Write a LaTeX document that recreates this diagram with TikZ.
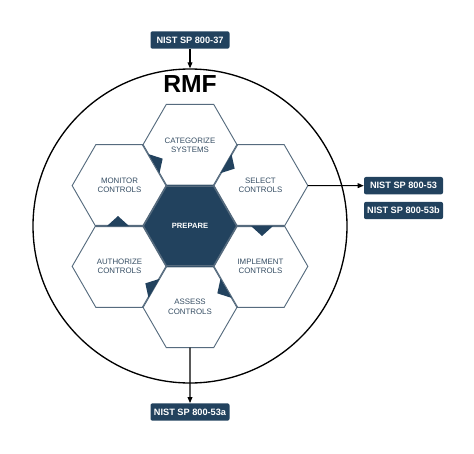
\documentclass[tikz,border=0pt]{standalone}
\usepackage{fontspec}
\setmainfont{Liberation Sans}
\usetikzlibrary{positioning,calc,arrows.meta,shapes.geometric}

\definecolor{rmfnavy}{HTML}{22425E}
\definecolor{hexline}{HTML}{566B7E}
\definecolor{hextext}{HTML}{354D63}

\begin{document}
\begin{tikzpicture}[x=0.75pt,y=-0.75pt,
         hexa/.style = {regular polygon, regular polygon sides=6,
         minimum size=71pt, inner sep=0pt, outer sep=0pt,
         draw=hexline, line width=0.7pt, align=center, text=hextext,
         font=\fontsize{5.9}{6.9}\selectfont},
         nist/.style = {rectangle, rounded corners=1.5pt, fill=rmfnavy,
         text=white, minimum width=59.25pt, minimum height=13pt,
         inner sep=0pt, font=\fontsize{6.9}{8}\selectfont\bfseries},
         flow/.style = {-{Triangle[length=4.5pt,width=3.6pt]}, line width=0.8pt},
         barb/.style = {fill=rmfnavy, draw=none}
]
         \useasboundingbox (0,0) rectangle (474,453);

         % outer circle
         \node[circle, draw, line width=1pt, minimum size=235.5pt,
         inner sep=0pt] (rmf) at (190,226) {};
         \node[font=\fontsize{18.5}{20}\selectfont\bfseries] (title) at (190,84) {RMF};

         % hexagons
         \node[hexa, fill=rmfnavy, text=white,
         font=\fontsize{5.7}{6.7}\selectfont\bfseries] (prep) at (190,226) {PREPARE};
         \node[hexa] (cat)  at (190,145.3)    {CATEGORIZE\\SYSTEMS};
         \node[hexa] (sel)  at (260.5,185.65) {SELECT\\CONTROLS};
         \node[hexa] (imp)  at (260.5,266.35) {IMPLEMENT\\CONTROLS};
         \node[hexa] (ass)  at (190,306.7)    {ASSESS\\CONTROLS};
         \node[hexa] (auth) at (119.5,266.35) {AUTHORIZE\\CONTROLS};
         \node[hexa] (mon)  at (119.5,185.65) {MONITOR\\CONTROLS};

         % flow marks on the spokes
         \foreach \a in {0,60,...,300}
            \fill[barb] ($(prep.center)+(\a:61)$) -- ($(prep.center)+(\a:72)+(\a+90:10)$)
            -- ($(prep.center)+(\a:83)$) -- cycle;

         % documents
         \node[nist] (sp37)  at (190,40)       {NIST SP 800-37};
         \node[nist] (sp53)  at (403.5,185.65) {NIST SP 800-53};
         \node[nist, below=5.25pt of sp53] (sp53b) {NIST SP 800-53b};
         \node[nist] (sp53a) at (190,412)      {NIST SP 800-53a};

         \draw[flow] (sp37.south) -- (rmf.north);
         \draw[flow] (sel.east) -- (sp53.west);
         \draw[flow] (ass.south) -- (sp53a.north);
\end{tikzpicture}
\end{document}
